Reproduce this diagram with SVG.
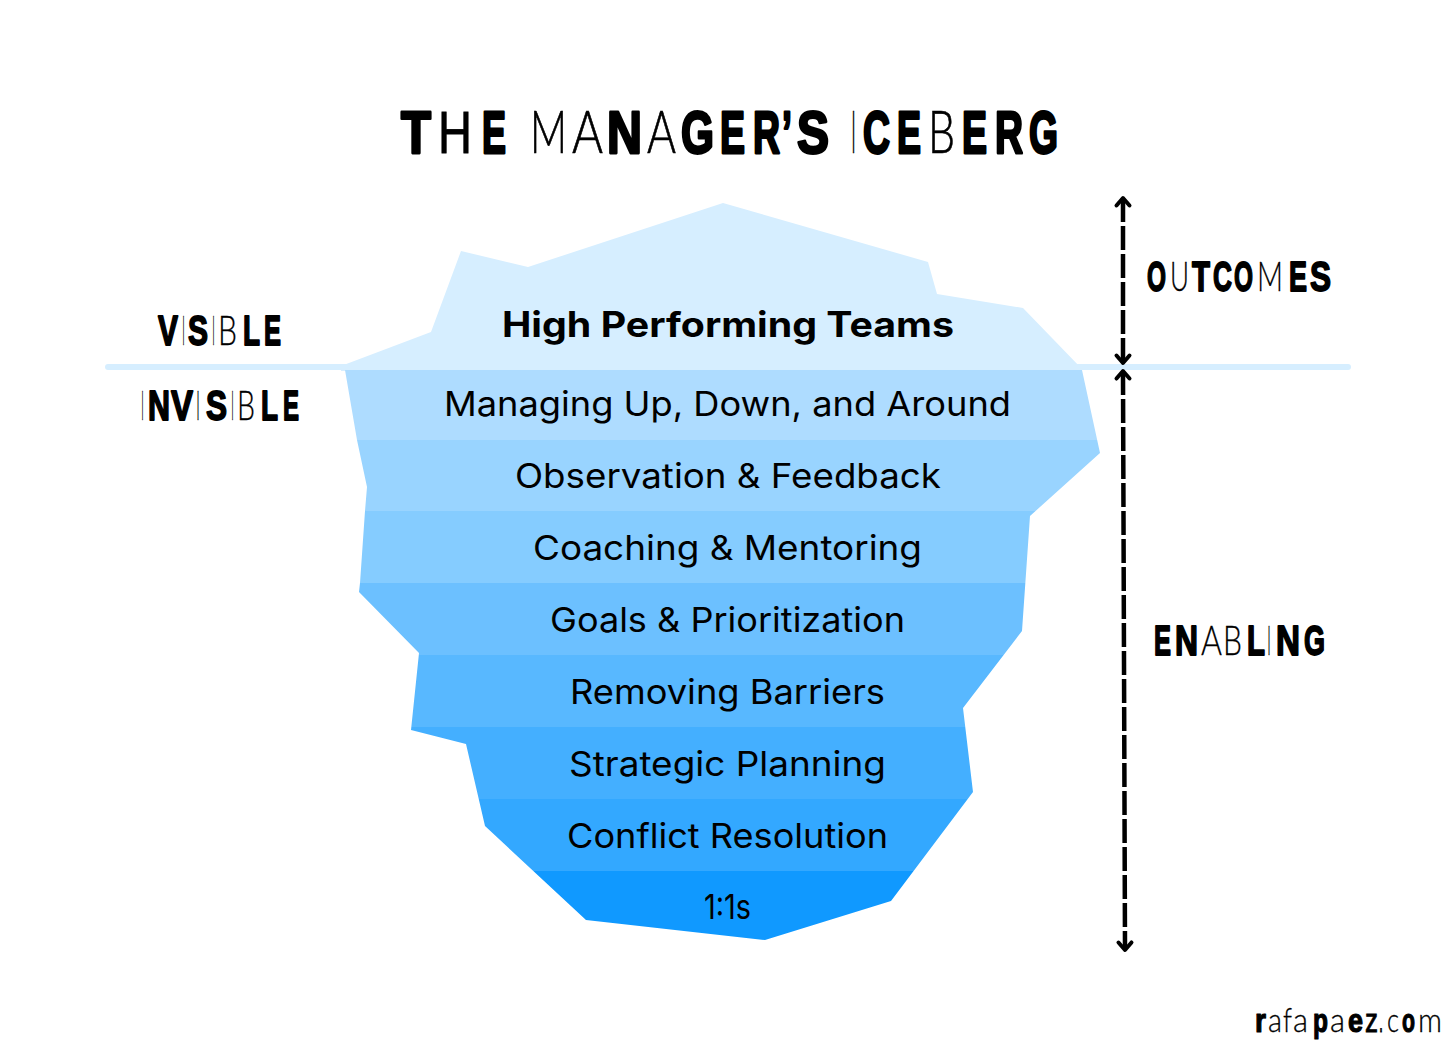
<svg xmlns="http://www.w3.org/2000/svg" width="1456" height="1048" viewBox="0 0 1456 1048">
<style>
text{fill:#000}
.b{font-family:"Inter","Liberation Sans",sans-serif;font-size:34px;font-weight:400}
.bb{font-family:"Inter","Liberation Sans",sans-serif;font-size:35px;font-weight:700}
.d{font-size:42px}
.d2{font-size:60px}
.d3{font-size:33px}
.h{font-family:"Liberation Sans Narrow","Liberation Sans",sans-serif;font-weight:700;stroke:#000;stroke-width:1.800px;stroke-linejoin:round}
.d2 .h{stroke-width:2.800px}
.d3 .h{stroke-width:1.200px}
.m{font-family:"Liberation Sans Narrow","Liberation Sans",sans-serif;font-weight:400;stroke:#000;stroke-width:.8px}
.t{font-family:"Lato","Liberation Sans",sans-serif;font-weight:300;stroke:#000;stroke-width:.3px}
.d2 .t{stroke-width:.7px}
.dash{fill:none;stroke:#000;stroke-width:4.500;stroke-dasharray:24 4;marker-start:url(#chev);marker-end:url(#chev)}
</style>
<defs>
<marker id="chev" markerUnits="userSpaceOnUse" orient="auto-start-reverse" overflow="visible" refX="0" refY="0" markerWidth="24" markerHeight="24" viewBox="-12 -12 24 24">
<path d="M-4.500-6.500L3 0L-4.500 6.500" fill="none" stroke="#000" stroke-width="4" stroke-linecap="round" stroke-linejoin="round"/>
</marker>
<clipPath id="under"><polygon points="345,370 357,440 367,487 365,511 360,583 359,592 419,653 411,730 466,744 485,826 586,920 765,940 891,901 973,792 963,708 1022,631 1030,516 1100,453 1082,370"/></clipPath>
</defs>
<rect width="1456" height="1048" fill="#fff"/>
<g id="title"><text class="d2"><tspan class="h" x="401" textLength="30" lengthAdjust="spacingAndGlyphs" y="153">T</tspan><tspan class="m" x="438" textLength="34" lengthAdjust="spacingAndGlyphs" y="153">H</tspan><tspan class="h" x="482" textLength="24" lengthAdjust="spacingAndGlyphs" y="153">E</tspan><tspan class="t" x="530" textLength="37" lengthAdjust="spacingAndGlyphs" y="153">M</tspan><tspan class="t" x="572" textLength="31" lengthAdjust="spacingAndGlyphs" y="153">A</tspan><tspan class="h" x="607" textLength="35" lengthAdjust="spacingAndGlyphs" y="153">N</tspan><tspan class="t" x="647" textLength="29" lengthAdjust="spacingAndGlyphs" y="153">A</tspan><tspan class="h" x="681" textLength="33" lengthAdjust="spacingAndGlyphs" y="153">G</tspan><tspan class="h" x="720" textLength="25" lengthAdjust="spacingAndGlyphs" y="153">E</tspan><tspan class="h" x="753" textLength="27" lengthAdjust="spacingAndGlyphs" y="153">R</tspan><tspan class="h" x="782" textLength="10" lengthAdjust="spacingAndGlyphs" y="153">’</tspan><tspan class="h" x="797" textLength="32" lengthAdjust="spacingAndGlyphs" y="153">S</tspan><tspan class="t" x="851" textLength="5" lengthAdjust="spacingAndGlyphs" y="153">I</tspan><tspan class="h" x="863" textLength="27" lengthAdjust="spacingAndGlyphs" y="153">C</tspan><tspan class="h" x="897" textLength="24" lengthAdjust="spacingAndGlyphs" y="153">E</tspan><tspan class="t" x="928" textLength="27" lengthAdjust="spacingAndGlyphs" y="153">B</tspan><tspan class="h" x="962" textLength="25" lengthAdjust="spacingAndGlyphs" y="153">E</tspan><tspan class="h" x="995" textLength="28" lengthAdjust="spacingAndGlyphs" y="153">R</tspan><tspan class="h" x="1029" textLength="29" lengthAdjust="spacingAndGlyphs" y="153">G</tspan></text></g>
<g id="iceberg-top"><polygon points="341,366 431,332 461,251 528,267 723,203 928,262 937,294 1023,308 1082,369 1082,371 341,371" fill="#d6eeff"/></g>
<g id="waterline"><line x1="108" y1="367" x2="1348" y2="367" stroke="#d6eeff" stroke-width="6" stroke-linecap="round"/></g>
<g id="layers" clip-path="url(#under)">
<rect id="band-1" x="300" y="370" width="850" height="70" fill="#aedcff"/>
<rect id="band-2" x="300" y="440" width="850" height="71" fill="#99d4ff"/>
<rect id="band-3" x="300" y="511" width="850" height="72" fill="#85ccff"/>
<rect id="band-4" x="300" y="583" width="850" height="72" fill="#6cc0ff"/>
<rect id="band-5" x="300" y="655" width="850" height="72" fill="#58b8ff"/>
<rect id="band-6" x="300" y="727" width="850" height="72" fill="#44afff"/>
<rect id="band-7" x="300" y="799" width="850" height="72" fill="#33a8ff"/>
<rect id="band-8" x="300" y="871" width="850" height="72" fill="#1099ff"/>
</g>
<g id="label-teams"><text class="bb" x="502" y="337" textLength="452" lengthAdjust="spacingAndGlyphs">High Performing Teams</text></g>
<g id="label-managing"><text class="b" x="444" y="416" textLength="567" lengthAdjust="spacingAndGlyphs">Managing Up, Down, and Around</text></g>
<g id="label-observation"><text class="b" x="515" y="488" textLength="426" lengthAdjust="spacingAndGlyphs">Observation &amp; Feedback</text></g>
<g id="label-coaching"><text class="b" x="533" y="560" textLength="389" lengthAdjust="spacingAndGlyphs">Coaching &amp; Mentoring</text></g>
<g id="label-goals"><text class="b" x="550" y="632" textLength="355" lengthAdjust="spacingAndGlyphs">Goals &amp; Prioritization</text></g>
<g id="label-barriers"><text class="b" x="570" y="704" textLength="315" lengthAdjust="spacingAndGlyphs">Removing Barriers</text></g>
<g id="label-strategic"><text class="b" x="569" y="776" textLength="317" lengthAdjust="spacingAndGlyphs">Strategic Planning</text></g>
<g id="label-conflict"><text class="b" x="567" y="848" textLength="321" lengthAdjust="spacingAndGlyphs">Conflict Resolution</text></g>
<g id="label-oneonones"><text class="b" x="704" y="919" textLength="47" lengthAdjust="spacingAndGlyphs">1:1s</text></g>
<g id="connectors">
<line class="dash" x1="1123" y1="201" x2="1123" y2="360" stroke-dashoffset="3"/>
<line class="dash" x1="1123" y1="374" x2="1125" y2="947" stroke-dashoffset="3"/>
</g>
<g id="label-visible"><text class="d"><tspan class="h" x="158" y="345" textLength="20" lengthAdjust="spacingAndGlyphs">V</tspan><tspan class="t" x="182" y="345" textLength="3" lengthAdjust="spacingAndGlyphs">I</tspan><tspan class="h" x="188" y="345" textLength="20" lengthAdjust="spacingAndGlyphs">S</tspan><tspan class="t" x="212" y="345" textLength="3" lengthAdjust="spacingAndGlyphs">I</tspan><tspan class="t" x="218" y="345" textLength="19" lengthAdjust="spacingAndGlyphs">B</tspan><tspan class="h" x="243" y="345" textLength="17" lengthAdjust="spacingAndGlyphs">L</tspan><tspan class="h" x="264" y="345" textLength="17" lengthAdjust="spacingAndGlyphs">E</tspan></text></g>
<g id="label-invisible"><text class="d"><tspan class="t" x="141" y="420" textLength="3" lengthAdjust="spacingAndGlyphs">I</tspan><tspan class="h" x="148" y="420" textLength="22" lengthAdjust="spacingAndGlyphs">N</tspan><tspan class="h" x="171" y="420" textLength="22" lengthAdjust="spacingAndGlyphs">V</tspan><tspan class="t" x="196" y="420" textLength="4" lengthAdjust="spacingAndGlyphs">I</tspan><tspan class="h" x="206" y="420" textLength="21" lengthAdjust="spacingAndGlyphs">S</tspan><tspan class="t" x="231" y="420" textLength="3" lengthAdjust="spacingAndGlyphs">I</tspan><tspan class="t" x="237" y="420" textLength="18" lengthAdjust="spacingAndGlyphs">B</tspan><tspan class="h" x="261" y="420" textLength="17" lengthAdjust="spacingAndGlyphs">L</tspan><tspan class="h" x="283" y="420" textLength="16" lengthAdjust="spacingAndGlyphs">E</tspan></text></g>
<g id="label-outcomes"><text class="d"><tspan class="h" x="1147" y="291" textLength="19" lengthAdjust="spacingAndGlyphs">O</tspan><tspan class="t" x="1170" y="291" textLength="19" lengthAdjust="spacingAndGlyphs">U</tspan><tspan class="h" x="1192" y="291" textLength="18" lengthAdjust="spacingAndGlyphs">T</tspan><tspan class="h" x="1213" y="291" textLength="19" lengthAdjust="spacingAndGlyphs">C</tspan><tspan class="h" x="1234" y="291" textLength="19" lengthAdjust="spacingAndGlyphs">O</tspan><tspan class="t" x="1257" y="291" textLength="26" lengthAdjust="spacingAndGlyphs">M</tspan><tspan class="h" x="1289" y="291" textLength="18" lengthAdjust="spacingAndGlyphs">E</tspan><tspan class="h" x="1310" y="291" textLength="21" lengthAdjust="spacingAndGlyphs">S</tspan></text></g>
<g id="label-enabling"><text class="d"><tspan class="h" x="1154" y="655" textLength="17" lengthAdjust="spacingAndGlyphs">E</tspan><tspan class="h" x="1175" y="655" textLength="23" lengthAdjust="spacingAndGlyphs">N</tspan><tspan class="t" x="1201" y="655" textLength="21" lengthAdjust="spacingAndGlyphs">A</tspan><tspan class="t" x="1223" y="655" textLength="19" lengthAdjust="spacingAndGlyphs">B</tspan><tspan class="h" x="1247" y="655" textLength="18" lengthAdjust="spacingAndGlyphs">L</tspan><tspan class="t" x="1267" y="655" textLength="4" lengthAdjust="spacingAndGlyphs">I</tspan><tspan class="h" x="1276" y="655" textLength="24" lengthAdjust="spacingAndGlyphs">N</tspan><tspan class="h" x="1304" y="655" textLength="21" lengthAdjust="spacingAndGlyphs">G</tspan></text></g>
<g id="credit"><text class="d3"><tspan class="h" x="1255" y="1032" textLength="11" lengthAdjust="spacingAndGlyphs">r</tspan><tspan class="t" x="1268" y="1032" textLength="14" lengthAdjust="spacingAndGlyphs">a</tspan><tspan class="t" x="1283" y="1032" textLength="9" lengthAdjust="spacingAndGlyphs">f</tspan><tspan class="t" x="1293" y="1032" textLength="15" lengthAdjust="spacingAndGlyphs">a</tspan><tspan class="h" x="1313" y="1032" textLength="15" lengthAdjust="spacingAndGlyphs">p</tspan><tspan class="t" x="1330" y="1032" textLength="15" lengthAdjust="spacingAndGlyphs">a</tspan><tspan class="h" x="1348" y="1032" textLength="15" lengthAdjust="spacingAndGlyphs">e</tspan><tspan class="m" x="1365" y="1032" textLength="13" lengthAdjust="spacingAndGlyphs">z</tspan><tspan class="m" x="1379" y="1032" textLength="4" lengthAdjust="spacingAndGlyphs">.</tspan><tspan class="t" x="1387" y="1032" textLength="12" lengthAdjust="spacingAndGlyphs">c</tspan><tspan class="h" x="1402" y="1032" textLength="13" lengthAdjust="spacingAndGlyphs">o</tspan><tspan class="t" x="1418" y="1032" textLength="24" lengthAdjust="spacingAndGlyphs">m</tspan></text></g>
</svg>
